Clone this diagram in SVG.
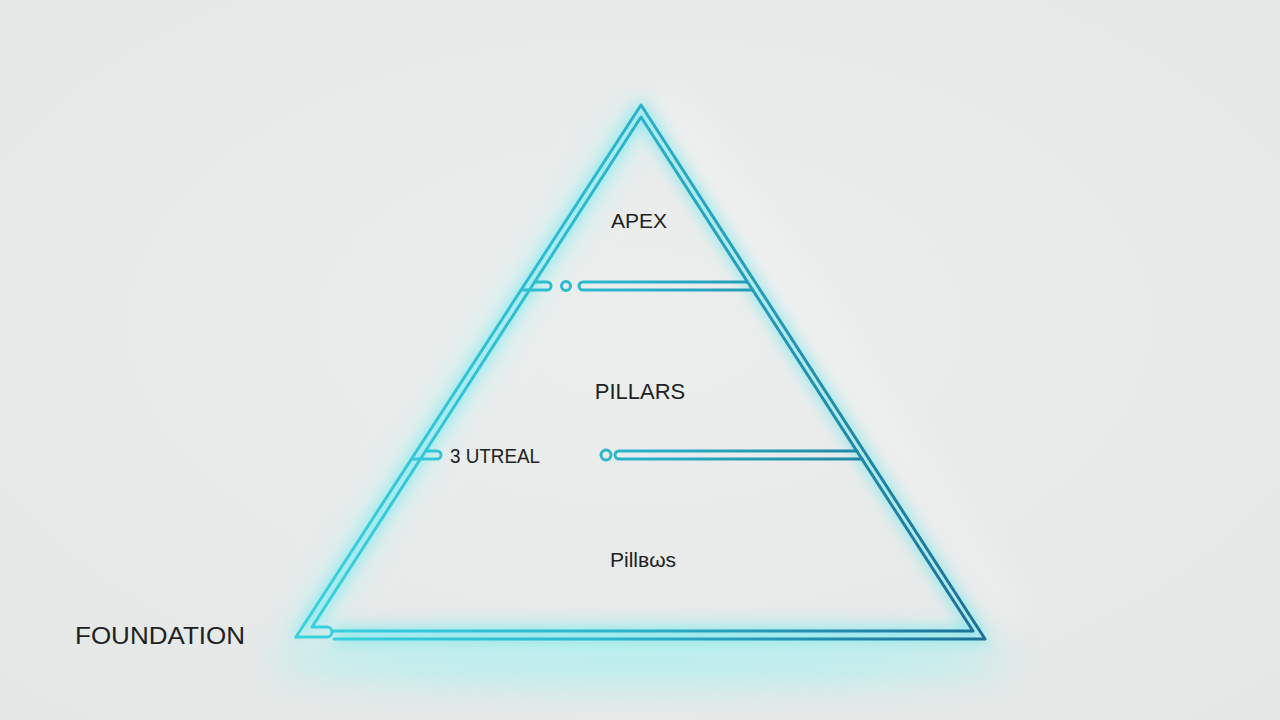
<svg xmlns="http://www.w3.org/2000/svg" width="1280" height="720" viewBox="0 0 1280 720">
<defs>
<radialGradient id="bg" cx="0.5" cy="0.45" r="0.75">
<stop offset="0" stop-color="#eceeed"/>
<stop offset="1" stop-color="#e3e7e6"/>
</radialGradient>
<linearGradient id="ln" gradientUnits="userSpaceOnUse" x1="300" y1="0" x2="990" y2="0">
<stop offset="0" stop-color="#3ad2de"/>
<stop offset="0.45" stop-color="#2bb6cc"/>
<stop offset="1" stop-color="#1d6f94"/>
</linearGradient>
<filter id="glow" x="-20%" y="-20%" width="140%" height="140%">
<feGaussianBlur stdDeviation="7"/>
</filter>
<filter id="soft" x="-50%" y="-50%" width="200%" height="200%">
<feGaussianBlur stdDeviation="18"/>
</filter>
<style>
.ln{fill:none;stroke:url(#ln);stroke-width:3;stroke-linecap:round;stroke-linejoin:round}
.gl{fill:none;stroke:#6ae8ef;stroke-width:10;stroke-linejoin:round;opacity:0.5}
.lbl{font-family:"Liberation Sans","DejaVu Sans",sans-serif;fill:#1e2224;text-anchor:middle}
</style>
</defs>
<rect width="1280" height="720" fill="url(#bg)"/>
<g id="ambient">
<ellipse cx="640" cy="660" rx="370" ry="26" fill="#aef0f0" opacity="0.8" filter="url(#soft)"/>
<path d="M665,95 L1015,620" stroke="#ffffff" stroke-width="12" opacity="0.6" filter="url(#soft)"/>
<path d="M640,110 L300,635" stroke="#bff5f5" stroke-width="26" opacity="0.65" filter="url(#soft)"/>
</g>
<g id="connectors">
<g filter="url(#glow)">
<path class="gl" d="M296,637 L641,105 L985,639 H334"/>
<path class="gl" d="M312,627 L641,117 L973,631 H334"/>
</g>
<path class="ln" d="M296,637 L641,105 L985,639 H334"/>
<path class="ln" d="M296,637 H327 a5,5 0 0 0 0,-10 H312 L641,117 L973,631 H334"/>
<path class="ln" d="M535,282 H547 a4,4 0 0 1 0,8 H522"/>
<circle class="ln" cx="566" cy="286" r="4.5"/>
<path class="ln" d="M752,290 H583 a4,4 0 0 1 0,-8 H747"/>
<path class="ln" d="M426,451 H437 a4,4 0 0 1 0,8 H413"/>
<circle class="ln" cx="606" cy="455" r="5"/>
<path class="ln" d="M862,459 H619 a4,4 0 0 1 0,-8 H857"/>
</g>
<g id="apex"><text class="lbl" x="639" y="228" font-size="21">APEX</text></g>
<g id="pillars"><text class="lbl" x="640" y="399" font-size="22">PILLARS</text></g>
<g id="label-3"><text class="lbl" x="495" y="463" font-size="20" textLength="90" lengthAdjust="spacingAndGlyphs">3 UTREAL</text></g>
<g id="pillars-2"><text class="lbl" x="643" y="567" font-size="21">Pillʙωs</text></g>
<g id="foundation"><text class="lbl" x="160" y="644" font-size="23" textLength="170" lengthAdjust="spacingAndGlyphs">FOUNDATION</text></g>
</svg>
